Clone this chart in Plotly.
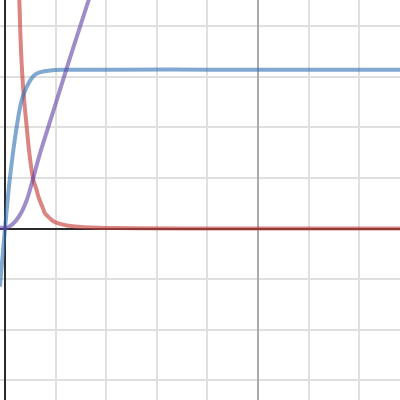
import plotly.graph_objects as pgo

# values (x, y in graph units)
red_x = [0.27, 0.283, 0.316, 0.362, 0.441, 0.474, 0.56, 0.626, 0.66, 0.757, 0.791, 0.889, 0.955, 1.09, 1.22, 1.45, 1.7, 2.1, 2.6, 3.5, 5.0, 6.5, 8.0]
red_y = [4.9, 4.52, 3.53, 2.74, 1.88, 1.55, 0.96, 0.76, 0.63, 0.38, 0.30, 0.20, 0.145, 0.09, 0.06, 0.035, 0.02, 0.01, 0.004, 0.0, 0.0, 0.0, 0.0]

blue_x = [-0.1, -0.05, 0, 0.085, 0.165, 0.231, 0.33, 0.429, 0.52, 0.593, 0.70, 0.889, 1.2, 2.0, 4.0, 6.0, 8.0]
blue_y = [-1.15, -0.58, 0, 0.89, 1.55, 2.01, 2.54, 2.80, 2.96, 3.04, 3.09, 3.125, 3.137, 3.14, 3.14, 3.14, 3.14]

purple_x = [-0.1, -0.05, 0, 0.164, 0.296, 0.429, 0.528, 0.692, 0.955, 1.251, 1.654, 1.8]
purple_y = [0.03, 0.01, 0, 0.10, 0.27, 0.56, 0.89, 1.486, 2.32, 3.27, 4.516, 4.97]

x_range = [-0.0988, 7.806]
y_range = [-3.389, 4.516]
major_x = [5]

fig = pgo.Figure()
# same drawing order as desmos: red, blue, purple
fig.add_trace(pgo.Scatter(x=red_x, y=red_y, mode="lines", line=dict(color="#c74440", width=4, shape="spline"), opacity=0.65))
fig.add_trace(pgo.Scatter(x=blue_x, y=blue_y, mode="lines", line=dict(color="#2d70b3", width=4, shape="spline"), opacity=0.6))
fig.add_trace(pgo.Scatter(x=purple_x, y=purple_y, mode="lines", line=dict(color="#6042a6", width=4, shape="spline"), opacity=0.6))

fig.update_layout(
    width=400, height=400,
    margin=dict(l=0, r=0, t=0, b=0),
    paper_bgcolor="white", plot_bgcolor="white",
    showlegend=False,
    xaxis=dict(range=x_range, dtick=1, tick0=0, showgrid=True, gridcolor="#e0e0e0", gridwidth=1.8,
               zeroline=True, zerolinecolor="#2b2b2b", zerolinewidth=2, showticklabels=False, fixedrange=True),
    yaxis=dict(range=y_range, dtick=1, tick0=0, showgrid=True, gridcolor="#e0e0e0", gridwidth=1.8,
               zeroline=True, zerolinecolor="#2b2b2b", zerolinewidth=2, showticklabels=False, fixedrange=True),
    # darker major grid line, done with an overlaying axis
    xaxis2=dict(range=x_range, overlaying="x", tickvals=major_x, showgrid=True, gridcolor="#aaaaaa", gridwidth=1.5,
                zeroline=False, showticklabels=False, ticks="", fixedrange=True),
)
# dummy trace so xaxis2 is drawn
fig.add_trace(pgo.Scatter(x=[], y=[], xaxis="x2", yaxis="y"))

# page has an 8px body margin by default, drop it so the plot sits at 0,0
fig.write_html("out.html", config={"displayModeBar": False},
               post_script="document.body.style.margin='0';")
